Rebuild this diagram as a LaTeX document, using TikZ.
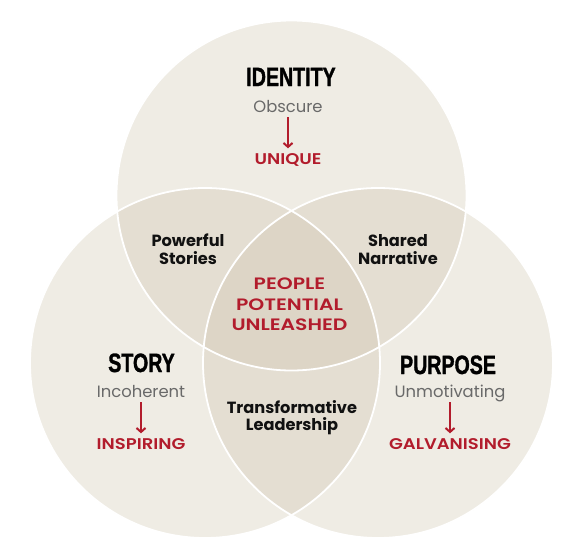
\documentclass[tikz,border=0pt]{standalone}
\usepackage{fontspec}
\setmainfont{Poppins}
\newfontfamily\titlefont{Liberation Sans Bold}[FakeStretch=0.74,FakeBold=1.2]
\newfontfamily\corefont{Poppins SemiBold}[FakeStretch=1.23]
\newfontfamily\resultfont{Poppins SemiBold}[FakeStretch=1.16]
\usetikzlibrary{arrows.meta}
\definecolor{outerfill}{RGB}{239,236,228}
\definecolor{pairfill}{RGB}{228,222,210}
\definecolor{centerfill}{RGB}{221,213,198}
\definecolor{accent}{RGB}{178,28,44}
\definecolor{subgrey}{RGB}{105,105,105}
\definecolor{darktext}{RGB}{17,17,17}
\tikzset{
  titletext/.style={anchor=base,inner sep=0pt,font=\titlefont\fontsize{26.5}{28}\selectfont,text=black},
  subtext/.style={anchor=base,inner sep=0pt,text depth=0pt,font=\fontsize{16.4}{18}\selectfont,text=subgrey},
  resulttext/.style={anchor=base,inner sep=0pt,text height=10.5pt,font=\resultfont\fontsize{15.5}{17}\selectfont,text=accent},
  overlaptext/.style={anchor=base,inner sep=0pt,font=\bfseries\fontsize{16.2}{18}\selectfont,text=darktext},
  coretext/.style={anchor=base,inner sep=0pt,font=\corefont\fontsize{16.5}{18}\selectfont,text=accent},
  changearrow/.style={draw=accent,line width=2pt,-{Straight Barb[length=4pt,width=9pt]},shorten <=5pt,shorten >=5pt},
  ring/.style={draw=white,line width=1.8pt}
}
\begin{document}
\begin{tikzpicture}[x=1pt,y=-1pt]
\useasboundingbox (0,0) rectangle (580,555);
\fill[white] (0,0) rectangle (580,555);
% circles
\coordinate (ct) at (291.5,195.5);
\coordinate (cl) at (205,363);
\coordinate (cr) at (378,363);
\def\R{175}
\fill[outerfill] (ct) circle (\R);
\fill[outerfill] (cl) circle (\R);
\fill[outerfill] (cr) circle (\R);
\begin{scope}
  \clip (ct) circle (\R);
  \fill[pairfill] (cl) circle (\R);
  \fill[pairfill] (cr) circle (\R);
\end{scope}
\begin{scope}
  \clip (cl) circle (\R);
  \fill[pairfill] (cr) circle (\R);
\end{scope}
\begin{scope}
  \clip (ct) circle (\R);
  \clip (cl) circle (\R);
  \fill[centerfill] (cr) circle (\R);
\end{scope}
\draw[ring] (ct) circle (\R);
\draw[ring] (cl) circle (\R);
\draw[ring] (cr) circle (\R);
% identity
\node[titletext] (idt) at (291,86) {IDENTITY};
\node[subtext] (obs) at (288,112) {Obscure};
\node[resulttext] (uni) at (288,164) {UNIQUE};
\draw[changearrow] (obs.south) -- (uni.north);
% story
\node[titletext] (sty) at (141.5,372) {STORY};
\node[subtext] (inc) at (141,397) {Incoherent};
\node[resulttext] (ins) at (141,449) {INSPIRING};
\draw[changearrow] (inc.south) -- (ins.north);
% purpose
\node[titletext] (pur) at (448,374) {PURPOSE};
\node[subtext] (unm) at (450,397) {Unmotivating};
\node[resulttext] (gal) at (450,449) {GALVANISING};
\draw[changearrow] (unm.south) -- (gal.north);
% overlaps
\node[overlaptext] (pow) at (188,246) {Powerful};
\node[overlaptext] (sto) at (188,264) {Stories};
\node[overlaptext] (sha) at (398,246) {Shared};
\node[overlaptext] (nar) at (398,264) {Narrative};
\node[overlaptext] (tra) at (292,413) {Transformative};
\node[overlaptext] (lea) at (292,430) {Leadership};
% core
\node[coretext] (peo) at (289.5,289) {PEOPLE};
\node[coretext] (pot) at (289.5,310) {POTENTIAL};
\node[coretext] (unl) at (289.5,330) {UNLEASHED};
\end{tikzpicture}
\end{document}
